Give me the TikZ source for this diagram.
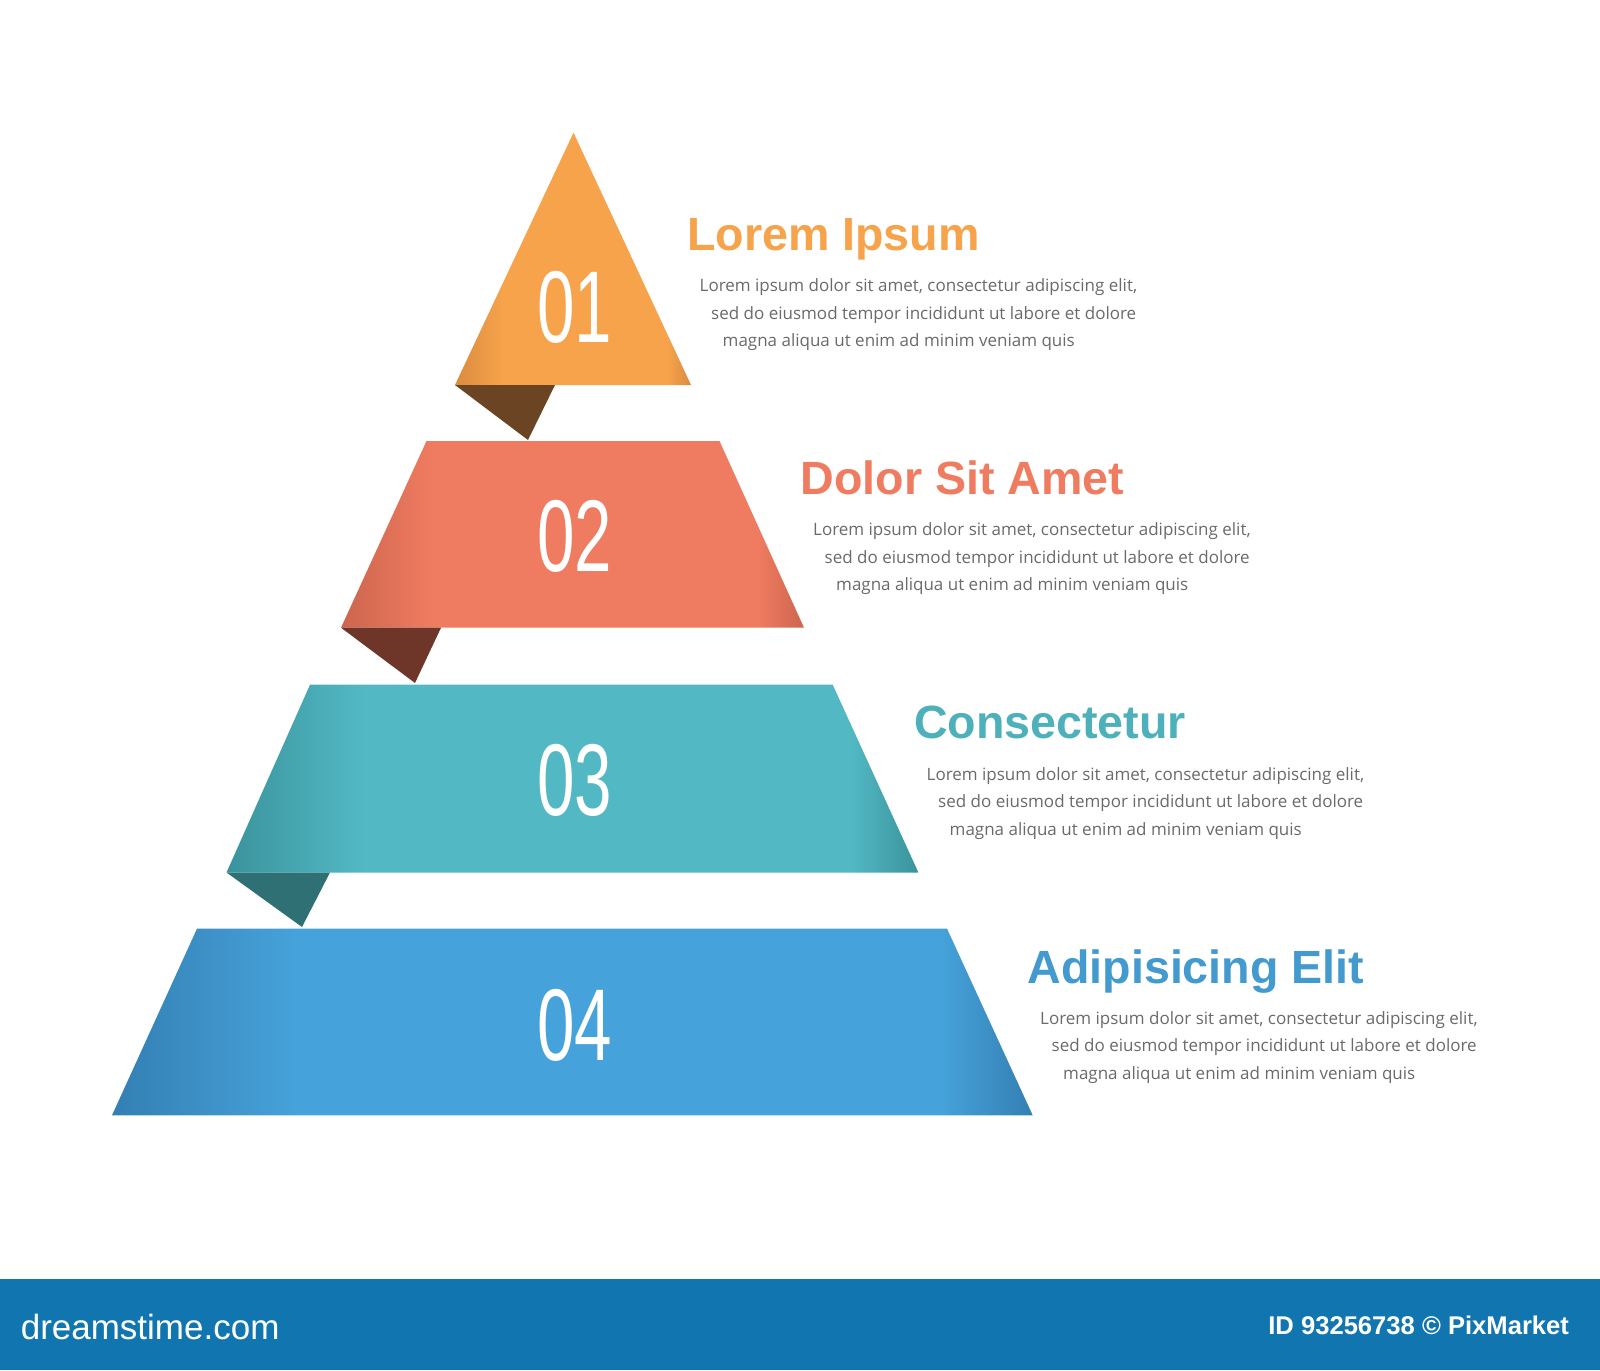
\documentclass[tikz,border=0pt]{standalone}
\usepackage{fontspec}
\usepackage{graphicx}
\setmainfont{Open Sans}
\newfontfamily\headfont{Liberation Sans}
\usetikzlibrary{fadings}

\definecolor{orbase}{HTML}{F6A34C}
\definecolor{oredge}{HTML}{DA8B3E}
\definecolor{orfold}{HTML}{6B4424}
\definecolor{sabase}{HTML}{EF7C60}
\definecolor{saedge}{HTML}{CD654E}
\definecolor{safold}{HTML}{6E3628}
\definecolor{tebase}{HTML}{52B9C4}
\definecolor{teedge}{HTML}{3A939C}
\definecolor{tefold}{HTML}{2F7075}
\definecolor{blbase}{HTML}{46A2DA}
\definecolor{bledge}{HTML}{337FB3}
\definecolor{bodygray}{HTML}{6A6A6A}
\definecolor{barblue}{HTML}{1176B0}

\pgfdeclarehorizontalshading{orshade}{100bp}{color(0bp)=(oredge); color(25bp)=(oredge); color(35bp)=(orbase); color(70bp)=(orbase); color(75bp)=(oredge); color(100bp)=(oredge)}
\pgfdeclarehorizontalshading{sashade}{100bp}{color(0bp)=(saedge); color(25bp)=(saedge); color(35bp)=(sabase); color(70bp)=(sabase); color(75bp)=(saedge); color(100bp)=(saedge)}
\pgfdeclarehorizontalshading{teshade}{100bp}{color(0bp)=(teedge); color(25bp)=(teedge); color(35bp)=(tebase); color(70bp)=(tebase); color(75bp)=(teedge); color(100bp)=(teedge)}
\pgfdeclarehorizontalshading{blshade}{100bp}{color(0bp)=(bledge); color(25bp)=(bledge); color(35bp)=(blbase); color(70bp)=(blbase); color(75bp)=(bledge); color(100bp)=(bledge)}

\tikzfading[name=shadowfade, left color=transparent!100, middle color=transparent!20, right color=transparent!100]

\begin{document}
\begin{tikzpicture}[x=0.5pt,y=-0.5pt,
    tier/.style={shading=#1},
    fold/.style={fill=#1},
    shadow/.style={top color=black!22, bottom color=white, path fading=shadowfade},
    title/.style={anchor=base west, inner sep=0pt, text=#1, font=\headfont\bfseries\fontsize{23.3}{28}\selectfont},
    body/.style={anchor=base west, inner sep=0pt, align=left, text=bodygray, font=\fontsize{8.5}{13.75}\selectfont},
    num/.style={inner sep=0pt, text=white, font=\headfont\fontsize{51}{51}\selectfont}]
    \useasboundingbox (0,0) rectangle (1600,1370);

    % soft shadows under the bands
    \path[shadow] (470,385) rectangle (705,397);
    \path[shadow] (360,627.7) rectangle (815,640);
    \path[shadow] (240,872.5) rectangle (930,885);
    \path[shadow] (130,1115.3) rectangle (1040,1128);

    % pyramid bands
    \path[tier=orshade] (573.5,132.7) -- (691,385) -- (455,385) -- cycle;
    \path[tier=sashade] (426.5,441) -- (719.5,441) -- (804,627.7) -- (341,627.7) -- cycle;
    \path[tier=teshade] (310,684.7) -- (832.7,684.7) -- (918.4,872.5) -- (226.5,872.5) -- cycle;
    \path[tier=blshade] (197,928.6) -- (947,928.6) -- (1032.7,1115.3) -- (112,1115.3) -- cycle;

    % folded ends
    \fill[fold=orfold] (455,385) -- (555,385) -- (528,440) -- cycle;
    \fill[fold=safold] (341,627.7) -- (441,627.7) -- (415,683) -- cycle;
    \fill[fold=tefold] (226.5,872.5) -- (330,872.5) -- (302,927) -- cycle;

    % numbers
    \node[num] (n1) at (574.5,307) {\scalebox{0.66}[1]{01}};
    \node[num] (n2) at (574.5,536) {\scalebox{0.66}[1]{02}};
    \node[num] (n3) at (574.5,780.6) {\scalebox{0.66}[1]{03}};
    \node[num] (n4) at (574.5,1025) {\scalebox{0.66}[1]{04}};

    % titles
    \node[title=orbase] (t1) at (686.7,250) {Lorem Ipsum};
    \node[title=sabase] (t2) at (800.2,494.3) {Dolor Sit Amet};
    \node[title=tebase!95!black] (t3) at (913.7,738.6) {Consectetur};
    \node[title=blbase!95!black] (t4) at (1027.2,983) {Adipisicing Elit};

    % descriptions (anchored on the baseline of their last line)
    \node[body] (d1) at (699.3,346.5) {Lorem ipsum dolor sit amet, consectetur adipiscing elit,\\\hspace*{5.75pt}sed do eiusmod tempor incididunt ut labore et dolore\\\hspace*{11.5pt}magna aliqua ut enim ad minim veniam quis};
    \node[body] (d2) at (812.8,590.8) {Lorem ipsum dolor sit amet, consectetur adipiscing elit,\\\hspace*{5.75pt}sed do eiusmod tempor incididunt ut labore et dolore\\\hspace*{11.5pt}magna aliqua ut enim ad minim veniam quis};
    \node[body] (d3) at (926.3,835.1) {Lorem ipsum dolor sit amet, consectetur adipiscing elit,\\\hspace*{5.75pt}sed do eiusmod tempor incididunt ut labore et dolore\\\hspace*{11.5pt}magna aliqua ut enim ad minim veniam quis};
    \node[body] (d4) at (1039.8,1079.4) {Lorem ipsum dolor sit amet, consectetur adipiscing elit,\\\hspace*{5.75pt}sed do eiusmod tempor incididunt ut labore et dolore\\\hspace*{11.5pt}magna aliqua ut enim ad minim veniam quis};

    % bottom bar
    \fill[barblue] (0,1278.6) rectangle (1600,1370);
    \node[anchor=base west, inner sep=0pt, text=white, font=\headfont\fontsize{17.5}{20}\selectfont] (brand) at (20.4,1339) {dreamstime.com};
    \node[anchor=base east, inner sep=0pt, text=white, font=\headfont\bfseries\fontsize{12.8}{15}\selectfont] (stockid) at (1569.4,1334.7) {ID 93256738 © PixMarket};
\end{tikzpicture}
\end{document}
